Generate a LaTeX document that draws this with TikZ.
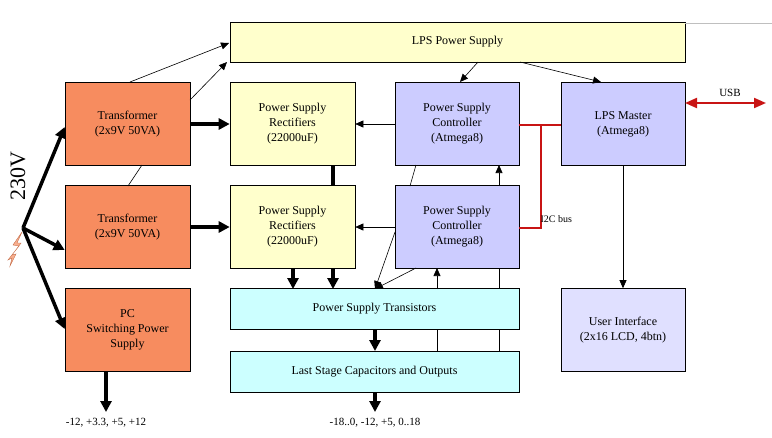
\documentclass[tikz,border=0pt]{standalone}
\usepackage{fontspec}
\setmainfont{Liberation Serif}
\usetikzlibrary{arrows.meta}
\definecolor{cor}{RGB}{247,140,95}
\definecolor{cye}{RGB}{255,255,204}
\definecolor{cla}{RGB}{204,204,255}
\definecolor{ccy}{RGB}{204,255,255}
\definecolor{cui}{RGB}{224,224,255}
\definecolor{cred}{RGB}{200,20,20}
\begin{document}
\begin{tikzpicture}[x=1pt,y=-1pt,
  box/.style={draw,line width=0.6pt,inner sep=0pt,align=center,font=\fontsize{12}{15}\selectfont},
  thin/.style={-{Triangle[length=8pt,width=7pt]},line width=0.6pt},
  thick/.style={-{Triangle[length=11pt,width=11pt]},line width=3.5pt},
  plain/.style={line width=0.6pt}]
\useasboundingbox (0,0) rectangle (772,437);
\newcommand{\bx}[5]{\node[box,fill=#2,minimum width=#4-#3,minimum height=#5] (#1) at ({(#3+#4)/2},0) {};}
\node[box,fill=cye,minimum width=455pt,minimum height=40pt] (lps) at (457.5,42) {LPS Power Supply};
\node[box,fill=cor,minimum width=125pt,minimum height=83pt] (t1) at (127.5,124) {Transformer\\(2x9V 50VA)};
\node[box,fill=cor,minimum width=125pt,minimum height=83pt] (t2) at (127.5,227) {Transformer\\(2x9V 50VA)};
\node[box,fill=cor,minimum width=125pt,minimum height=83pt] (pc) at (127.5,330) {PC\\Switching Power\\Supply};
\node[box,fill=cye,minimum width=125pt,minimum height=83pt] (r1) at (292.5,124) {Power Supply\\Rectifiers\\(22000uF)};
\node[box,fill=cye,minimum width=125pt,minimum height=83pt] (r2) at (292.5,227) {Power Supply\\Rectifiers\\(22000uF)};
\node[box,fill=cla,minimum width=124pt,minimum height=83pt] (c1) at (457,124) {Power Supply\\Controller\\(Atmega8)};
\node[box,fill=cla,minimum width=124pt,minimum height=83pt] (c2) at (457,227) {Power Supply\\Controller\\(Atmega8)};
\node[box,fill=cla,minimum width=124pt,minimum height=83pt] (m) at (623,124) {LPS Master\\(Atmega8)};
\node[box,fill=cui,minimum width=124pt,minimum height=83pt] (ui) at (623,330) {User Interface\\(2x16 LCD, 4btn)};
\node[box,fill=ccy,minimum width=289pt,minimum height=41pt] (tr) at (374.5,309) {Power Supply Transistors};
\node[box,fill=ccy,minimum width=289pt,minimum height=41pt] (ls) at (374.5,371.5) {Last Stage Capacitors and Outputs};
% 230V
\coordinate (src) at (23,228);
\node[rotate=90,font=\fontsize{22}{22}\selectfont] (v) at (18,176) {230V};
\draw[thick] (src) -- (t1.west |- 0,127);
\draw[thick] (src) -- (t2.west |- 0,250);
\draw[thick] (src) -- (t2.west |- 0,329) ;
\draw[fill=cor!70,draw=cor!80!black,line width=0.4pt] (22,232) -- (13,245) -- (19,246) -- (8,260) -- (12,258) -- (10,266) -- (16,254) -- (12,255) -- (21,243) -- (17,243) -- cycle;
% thin lines transformers
\draw[thin] (130,82) -- (229,43);
\draw[thin] (190,100) -- (227,62);
\draw[plain] (128,186) -- (142,165);
\draw[thick] (t1.east) -- (r1.west);
\draw[thick] (t2.east) -- (r2.west);
\draw[line width=3.5pt] (333,165) -- (333,186);
\draw[thin] (c1.west) -- (r1.east);
\draw[thin] (c2.west) -- (r2.east);
\draw[thin] (478,62) -- (460,82);
\draw[thin] (520,62) -- (601,82);
\draw[thin] (499,186) -- (499,165);
\draw[plain] (416,165) -- (410,186);
\draw[thin] (395,232) -- (375,289);
\draw[thin] (416,268) -- (375,289);
\draw[thick] (293,268) -- (293,289);
\draw[thick] (333,268) -- (333,289);
\draw[thin] (437,289) -- (437,268);
\draw[plain] (499,268) -- (499,289);
\draw[plain] (437,329) -- (437,351);
\draw[plain] (499,329) -- (499,351);
\draw[thick] (375,329) -- (375,351);
\draw[thick] (375,392) -- (375,412);
\node[font=\fontsize{11}{11}\selectfont] (o2) at (375,423) {-18..0, -12, +5, 0..18};
\draw[thick] (106,371) -- (106,412);
\node[font=\fontsize{11}{11}\selectfont] (o1) at (106,423) {-12, +3.3, +5, +12};
% I2C
\draw[cred,line width=2pt] (519,125) -- (561,125) (541,125) -- (541,228) -- (519,228);
\node[font=\fontsize{10}{10}\selectfont,anchor=west] (i2c) at (537,219) {I2C bus};
\draw[thin] (m.south) -- (ui.north);
\draw[cred,line width=2pt,{Triangle[length=12pt,width=10pt]}-{Triangle[length=12pt,width=10pt]}] (685,103) -- (766,103);
\node[font=\fontsize{11}{11}\selectfont] (usb) at (730,93) {USB};
\draw[black!25,line width=0.6pt] (685,23) -- (772,23);
\end{tikzpicture}
\end{document}
